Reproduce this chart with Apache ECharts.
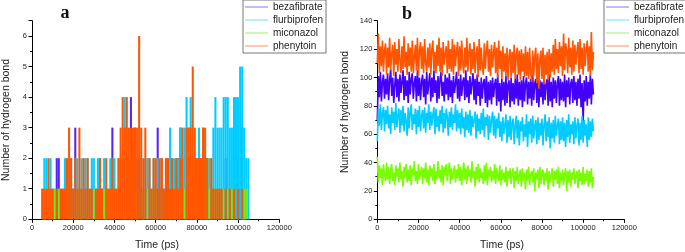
<!DOCTYPE html>
<html>
<head>
<meta charset="utf-8">
<script src="https://cdn.jsdelivr.net/npm/echarts@6/dist/echarts.min.js"></script>
<style>html,body{margin:0;padding:0;background:#fff}#c{width:685px;height:252px}</style>
</head>
<body>
<div id="c"></div>
<script>
// ---------- DATA ----------
const seriesNames = ['bezafibrate', 'flurbiprofen', 'miconazol', 'phenytoin'];
const xTicks = [0, 20000, 40000, 60000, 80000, 100000, 120000];

// Panel a: number of H-bonds, sampled every 1000 ps (0..105000)
const stepA = 1000;
const hbA_bezafibrate = [
  0,0,0,0,0,0,1,0,1,0, 1,0,2,2,1,0,1,0,1,0, 1,3,1,0,1,0,1,1,0,1, 0,1,0,1,1,0,1,0,1,3,
  1,0,1,1,2,1,2,1,4,2, 3,1,2,1,1,0,1,1,0,1, 1,3,1,0,1,1,0,1,1,0, 1,2,3,1,0,1,2,1,1,2,
  1,0,1,2,1,1,0,1,1,0, 1,0,1,1,2,1,0,1,1,2, 2,1,3,1,0,0];
const hbA_flurbiprofen = [
  0,0,0,0,0,1,2,2,1,2, 1,1,0,1,0,1,2,2,1,2, 1,2,2,1,2,2,2,2,1,2, 2,1,2,2,1,2,1,1,2,2,
  2,1,2,2,2,4,3,2,2,2, 1,2,1,2,1,2,2,2,1,2, 1,2,1,2,1,2,2,3,2,2, 2,2,3,2,3,4,3,4,2,2,
  2,3,2,3,2,2,2,2,3,4, 3,3,3,4,4,4,3,3,4,4, 4,5,5,3,2,2];
const hbA_miconazol = [
  0,0,0,0,0,0,1,0,0,1, 0,1,0,1,0,1,0,0,0,1, 0,0,1,0,1,0,0,1,0,0, 1,0,1,0,0,1,1,0,1,0,
  1,0,0,0,0,1,0,0,1,0, 0,1,0,0,1,0,1,0,1,0, 1,0,0,1,0,1,0,1,0,1, 1,0,1,0,1,1,0,1,0,1,
  1,0,1,0,1,2,1,1,0,1, 1,0,1,1,0,1,0,1,1,0, 1,0,1,1,1,0];
const hbA_phenytoin = [
  0,0,0,0,0,1,1,1,2,1, 1,0,1,0,1,1,1,2,3,2, 1,2,1,3,1,2,1,2,1,1, 0,1,1,2,1,0,2,1,1,2,
  1,1,2,3,4,3,4,3,3,3, 3,3,6,3,2,3,0,2,1,2, 2,1,2,2,1,2,2,1,2,1, 2,1,2,3,0,3,3,3,5,3,
  2,2,2,3,3,2,0,2,1,1, 1,1,1,0,1,0,1,0,1,0, 1,0,1,0,0,0];

// Panel b: number of H-bonds, sampled every 500 ps (0..105000)
const stepB = 500;
const hbB_bezafibrate = [
  70,101,86,104,83,97,102,85,99,88, 103,84,98,106,87,100,82,95,104,86, 99,83,102,89,97,105,84,101,87,98,
  82,104,88,99,103,85,96,101,83,105, 87,100,84,97,102,86,99,81,104,88, 96,103,83,100,86,105,89,98,82,101,
  85,99,104,87,97,83,102,88,100,84, 103,86,98,82,101,89,96,104,85,99, 83,102,87,97,100,84,105,86,98,82,
  101,88,96,103,84,99,81,102,87,97, 80,100,85,96,99,82,101,79,97,84, 98,81,100,86,95,99,80,102,83,96,
  76,99,84,97,80,101,82,95,98,79, 100,83,96,81,99,85,102,80,97,84, 98,79,101,83,96,100,81,97,85,99,
  80,102,84,96,99,82,100,79,98,86, 97,81,101,84,95,99,80,102,83,97, 79,100,85,98,82,96,101,80,99,84,
  97,83,102,79,98,86,100,81,96,99, 82,101,84,97,80,99,85,102,79,96, 68,98,83,101,80,97,85,102,81,99,
  88];
const hbB_flurbiprofen = [
  55,78,66,81,63,75,79,62,77,67, 80,64,74,60,79,68,76,63,82,65, 73,78,61,77,66,80,62,75,69,59,
  79,64,76,81,63,74,67,78,60,77, 65,80,62,73,77,64,79,61,75,68, 81,63,76,66,74,79,60,78,65,73,
  62,77,67,80,61,75,64,78,72,59, 76,65,79,63,74,68,81,62,77,64, 75,60,78,64,72,58,76,63,74,61,
  77,59,73,65,70,76,57,74,62,71, 60,75,63,78,58,72,66,74,56,73, 61,70,76,59,73,57,71,64,75,58,
  69,55,72,60,67,74,54,70,58,73, 56,68,71,53,66,73,57,70,52,69, 62,72,55,67,58,74,51,69,60,71,
  54,73,57,66,70,53,72,56,68,59, 71,52,67,74,55,69,58,72,50,68, 57,70,54,73,59,66,71,53,69,56,
  72,55,68,51,70,58,74,54,67,60, 69,53,72,57,66,71,52,68,56,73, 54,70,59,67,51,72,56,69,58,71,
  62];
const hbB_miconazol = [
  44,26,38,29,36,24,39,31,27,40, 28,37,25,35,39,27,33,24,38,30, 36,26,40,28,34,23,37,29,39,26,
  35,27,38,24,36,31,41,27,34,25, 39,28,33,37,25,36,29,40,26,35, 24,38,30,36,27,39,25,34,28,41,
  29,35,26,38,24,37,31,39,27,34, 40,25,36,28,33,38,26,35,29,39, 27,37,24,34,40,28,36,25,38,30,
  35,26,41,29,34,23,37,28,39,26, 36,29,33,25,38,27,40,24,35,30, 37,26,34,28,39,25,36,31,27,38,
  24,35,28,33,26,37,23,34,29,36, 25,32,36,22,34,27,37,25,31,35, 23,36,27,33,21,35,28,37,24,32,
  34,26,36,20,33,28,35,22,37,25, 32,35,24,33,27,36,21,34,26,31, 36,23,34,28,35,25,37,22,33,27,
  35,24,32,36,20,34,26,35,23,33, 28,36,25,31,34,22,35,27,33,24, 37,25,32,27,35,23,34,26,36,22,
  30];
const hbB_phenytoin = [
  110,131,103,122,108,126,104,119,124,102, 121,107,128,105,117,123,101,125,109,120, 104,127,112,103,122,106,129,107,118,102,
  124,108,121,104,126,103,115,123,105,128, 101,119,125,106,122,103,127,110,104,121, 107,124,102,120,126,105,118,103,123,108,
  128,104,121,101,125,109,117,122,103,126, 106,120,104,127,102,123,108,119,125,101, 122,105,126,110,103,121,107,128,104,118,
  124,102,120,106,125,103,116,122,100,127, 105,121,108,102,124,106,119,126,104,120, 101,123,107,118,125,103,121,100,126,106,
  119,99,122,104,117,101,121,98,115,120, 100,118,103,123,99,116,121,102,119,98, 120,104,117,100,122,101,118,99,121,103,
  97,119,101,115,121,96,117,92,113,119, 99,121,95,116,102,118,98,120,100,117, 104,123,102,127,106,120,103,125,108,122,
  101,131,105,124,119,103,128,107,121,102, 126,104,123,109,118,125,103,127,106,121, 102,124,108,120,126,104,122,101,132,105,
  118];

// ---------- STYLE ----------
const colorsA = ['#5522ff', '#00ccff', '#66ee22', '#ff5500'];
const colorsB = ['#4400ff', '#00ccff', '#77ff00', '#ff5500'];
const legendColors = ['#a088ff', '#80e4ff', '#b4f080', '#ffa27a'];
const FONT = 'Liberation Sans, Arial, sans-serif';

const dataA = [hbA_bezafibrate, hbA_flurbiprofen, hbA_miconazol, hbA_phenytoin];
const dataB = [hbB_bezafibrate, hbB_flurbiprofen, hbB_miconazol, hbB_phenytoin];
const pairs = (arr, step) => arr.map((v, i) => [i * step, v]);

function xAxisCfg(gi) {
  return {
    type: 'value', gridIndex: gi, min: xTicks[0], max: xTicks[xTicks.length - 1], interval: xTicks[1] - xTicks[0],
    axisLine: { show: true, onZero: false, lineStyle: { color: '#000', width: 1 } },
    axisTick: { show: true, inside: false, length: 3.5, lineStyle: { color: '#000' } },
    minorTick: { show: true, splitNumber: 2, length: 2, lineStyle: { color: '#000' } },
    splitLine: { show: false },
    axisLabel: { fontFamily: FONT, fontSize: 7.5, color: '#222', margin: 5, formatter: v => String(v) }
  };
}
function yAxisCfg(gi, max, interval, fmt) {
  return {
    type: 'value', gridIndex: gi, min: 0, max: max, interval: interval,
    axisLine: { show: true, lineStyle: { color: '#000', width: 1 } },
    axisTick: { show: true, inside: false, length: 3.5, lineStyle: { color: '#000' } },
    minorTick: { show: true, splitNumber: 2, length: 2, lineStyle: { color: '#000' } },
    splitLine: { show: false },
    axisLabel: { fontFamily: FONT, fontSize: 7.5, color: '#222', margin: 5, formatter: fmt }
  };
}

const series = [];
seriesNames.forEach((n, k) => {
  series.push({
    name: n, type: 'bar', xAxisIndex: 0, yAxisIndex: 0,
    data: pairs(dataA[k], stepA), barWidth: 2.06, barGap: '-100%',
    itemStyle: { color: colorsA[k] }, z: 2 + k, silent: true, animation: false
  });
});
seriesNames.forEach((n, k) => {
  series.push({
    name: n, type: 'line', xAxisIndex: 1, yAxisIndex: 1,
    data: pairs(dataB[k], stepB), showSymbol: false, symbol: 'none', sampling: null,
    lineStyle: { color: colorsB[k], width: 1.6 }, itemStyle: { color: colorsB[k] },
    z: 2 + k, silent: true, animation: false
  });
});

function legendCfg(left) {
  return {
    orient: 'vertical', left: left, top: 0, selectedMode: false,
    backgroundColor: '#fff', borderColor: '#777', borderWidth: 1,
    padding: [1, 3, 1, 2], itemGap: 1, itemWidth: 23, itemHeight: 1.2, icon: 'rect',
    textStyle: { fontFamily: FONT, fontSize: 10, color: '#222', lineHeight: 12 },
    data: seriesNames.map((n, k) => ({ name: n, itemStyle: { color: legendColors[k] } }))
  };
}

const option = {
  animation: false,
  backgroundColor: '#fff',
  grid: [
    { left: 32, top: 20.7, width: 247.3, height: 198.6 },
    { left: 377.3, top: 20.7, width: 247, height: 198.6 }
  ],
  xAxis: [xAxisCfg(0), xAxisCfg(1)],
  yAxis: [
    yAxisCfg(0, 6.5, 1, v => (Number.isInteger(v) ? String(v) : '')),
    yAxisCfg(1, 140, 20, v => String(v))
  ],
  legend: [legendCfg(243), legendCfg(604)],
  series: series,
  graphic: [
    { type: 'text', x: 65, y: 13, style: { text: 'a', font: 'bold 18px Liberation Serif, Times New Roman, serif', fill: '#111', align: 'center', verticalAlign: 'middle' } },
    { type: 'text', x: 407, y: 14, style: { text: 'b', font: 'bold 18px Liberation Serif, Times New Roman, serif', fill: '#111', align: 'center', verticalAlign: 'middle' } },
    { type: 'text', x: 6, y: 120, rotation: Math.PI / 2, style: { text: 'Number of hydrogen bond', font: '10.5px ' + FONT, fill: '#222', align: 'center', verticalAlign: 'middle' } },
    { type: 'text', x: 345, y: 112, rotation: Math.PI / 2, style: { text: 'Number of hydrogen bond', font: '10.5px ' + FONT, fill: '#222', align: 'center', verticalAlign: 'middle' } },
    { type: 'text', x: 157, y: 245, style: { text: 'Time (ps)', font: '10.5px ' + FONT, fill: '#222', align: 'center', verticalAlign: 'middle' } },
    { type: 'text', x: 502, y: 245, style: { text: 'Time (ps)', font: '10.5px ' + FONT, fill: '#222', align: 'center', verticalAlign: 'middle' } }
  ]
};

const chart = echarts.init(document.getElementById('c'), null, { renderer: 'canvas' });
chart.setOption(option);
</script>
</body>
</html>
